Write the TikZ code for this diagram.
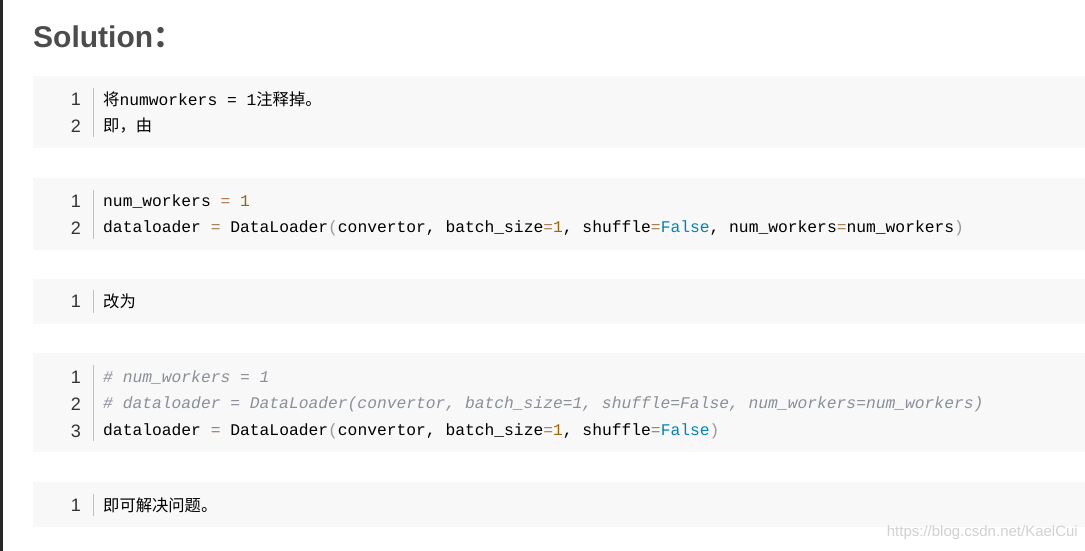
\documentclass[tikz,border=0pt]{standalone}
\usepackage{fontspec}
\setmainfont{Liberation Sans}
\setmonofont{Liberation Mono}
\newfontfamily\cj{Noto Sans CJK SC}
\definecolor{bgc}{HTML}{F8F8F8}
\definecolor{numc}{HTML}{986801}
\definecolor{kwc}{HTML}{0184BB}
\definecolor{opc}{HTML}{A67F59}
\definecolor{pc}{HTML}{999999}
\definecolor{cmc}{HTML}{8A8F98}
\definecolor{lnc}{HTML}{333333}
\newcommand{\CN}[1]{\textcolor{numc}{#1}}
\newcommand{\CK}[1]{\textcolor{kwc}{#1}}
\newcommand{\CQ}{\textcolor{opc}{=}}
\newcommand{\CPl}{\textcolor{pc}{(}}
\newcommand{\CPr}{\textcolor{pc}{)}}
\begin{document}
\begin{tikzpicture}[x=1pt,y=-1pt,
  lnum/.style={anchor=east,font=\fontsize{18}{20}\selectfont,text=lnc,inner sep=0},
  code/.style={anchor=west,font=\ttfamily\fontsize{16.3}{18}\selectfont,inner sep=0,text=black},
  cmt/.style={code,font=\ttfamily\itshape\fontsize{16.3}{18}\selectfont,text=cmc}]
\useasboundingbox (0,0) rectangle (1085,551);
\fill[white] (0,0) rectangle (1085,551);
\fill[black!85] (0,0) rectangle (3,551);
\node[anchor=west,inner sep=0,font=\bfseries\fontsize{30}{32}\selectfont,text=black!70] (title) at (33,37) {Solution\cj ：};
\foreach \a/\b in {76/148,178/250,279/324,353/452,482/527}{
  \fill[bgc] (33,\a) rectangle (1085,\b);
}
\foreach \a/\b in {88/137,190/239,290/313,365/441,494/516}{
  \draw[black!25,line width=0.8pt] (93,\a) -- (93,\b);
}
\node[lnum] (a1) at (81,99) {1};
\node[lnum] (a2) at (81,126) {2};
\node[code] (t1) at (103,99) {\cj 将\ttfamily numworkers = 1\cj 注释掉。};
\node[code] (t2) at (103,126) {\cj 即，由};
\node[lnum] (b1) at (81,201) {1};
\node[lnum] (b2) at (81,228) {2};
\node[code] (u1) at (103,201) {num\_workers \CQ{} \CN{1}};
\node[code] (u2) at (103,228) {dataloader \CQ{} DataLoader\CPl{}convertor, batch\_size\CQ\CN{1}, shuffle\CQ\CK{False}, num\_workers\CQ{}num\_workers\CPr};
\node[lnum] (c1) at (81,301) {1};
\node[code] (v1) at (103,301) {\cj 改为};
\node[lnum] (d1) at (81,377) {1};
\node[lnum] (d2) at (81,404) {2};
\node[lnum] (d3) at (81,431) {3};
\node[cmt] (w1) at (103,377) {\# num\_workers = 1};
\node[cmt] (w2) at (103,404) {\# dataloader = DataLoader(convertor, batch\_size=1, shuffle=False, num\_workers=num\_workers)};
\node[code] (w3) at (103,431) {dataloader \CQ{} DataLoader\CPl{}convertor, batch\_size\CQ\CN{1}, shuffle\CQ\CK{False}\CPr};
\node[lnum] (e1) at (81,505) {1};
\node[code] (x1) at (103,505) {\cj 即可解决问题。};
\node[anchor=east,inner sep=0,font=\fontsize{15}{16}\selectfont,text=black!18] (wm) at (1078,533) {https://blog.csdn.net/KaelCui};
\end{tikzpicture}
\end{document}
